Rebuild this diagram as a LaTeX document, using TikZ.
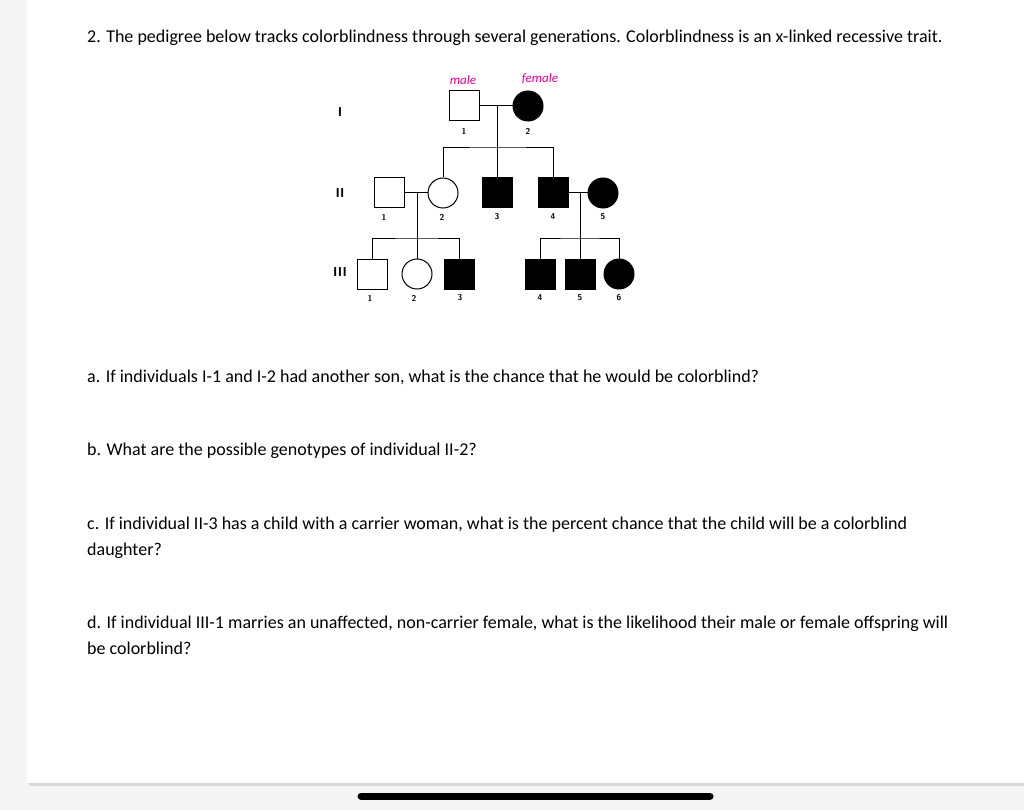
\documentclass[tikz,border=0pt]{standalone}
\usepackage{fontspec}
\setmainfont{Carlito}
\newfontfamily\hw{Carlito}
\begin{document}
\begin{tikzpicture}[x=1pt,y=-1pt,
  sq/.style={draw,line width=1pt,minimum size=30pt,inner sep=0pt},
  ci/.style={draw,circle,line width=1pt,minimum size=30pt,inner sep=0pt},
  aff/.style={fill=black},
  ln/.style={line width=1pt},
  num/.style={font=\sffamily\bfseries\fontsize{8.5}{10}\selectfont},
  gen/.style={font=\sffamily\bfseries\fontsize{13}{14}\selectfont},
  txt/.style={anchor=west,inner sep=0pt,font=\fontsize{18}{25.5}\selectfont,align=left}]
\useasboundingbox (0,0) rectangle (1024,810);
\fill[gray!8] (0,0) rectangle (1024,810);
\fill[gray!30] (29,0) rectangle (1024,786);
\fill[white] (27,0) rectangle (1024,783);
\draw[line width=7pt,line cap=round] (361,796) -- (710,796);
% generation labels
\node[gen] (gI) at (340,112) {I};
\node[gen] (gII) at (340,193) {II};
\node[gen] (gIII) at (340,272) {III};
\node[text=magenta,font=\hw\itshape\fontsize{13}{14}\selectfont] (lm) at (463,80) {male};
\node[text=magenta,font=\hw\itshape\fontsize{13}{14}\selectfont] (lf) at (540,79) {female};
% gen I
\node[sq] (a1) at (464,106) {};
\node[ci,aff] (a2) at (528,106) {};
\node[num] at (464,131) {1};
\node[num] at (528,131) {2};
% gen II
\node[sq] (b1) at (389,193) {};
\node[ci] (b2) at (443,193) {};
\node[sq,aff] (b3) at (497,193) {};
\node[sq,aff] (b4) at (553,193) {};
\node[ci,aff] (b5) at (603,193) {};
\foreach \n/\x in {1/384,2/442,3/497,4/553,5/603} \node[num] at (\x,217) {\n};
% gen III
\node[sq] (c1) at (372,274) {};
\node[ci] (c2) at (417,274) {};
\node[sq,aff] (c3) at (459,274) {};
\node[sq,aff] (c4) at (540,274) {};
\node[sq,aff] (c5) at (580,274) {};
\node[ci,aff] (c6) at (619,274) {};
\foreach \n/\x in {1/370,2/414,3/460,4/540,5/580,6/619} \node[num] at (\x,298) {\n};
% lines
\coordinate (m1) at (497,106);
\coordinate (s1) at (497,148);
\draw[ln] (a1) -- (a2);
\draw[ln] (m1) -- (s1);
\draw[ln] (b2.north) |- (s1) -| (b4.north);
\draw[ln] (s1) -- (b3.north);
\draw[ln] (b1) -- (b2);
\coordinate (m2) at (417,193);
\coordinate (s2) at (417,238);
\draw[ln] (m2) -- (s2);
\draw[ln] (c1.north) |- (s2) -| (c3.north);
\draw[ln] (s2) -- (c2.north);
\draw[ln] (b4) -- (b5);
\coordinate (m3) at (580,193);
\coordinate (s3) at (580,238);
\draw[ln] (m3) -- (s3);
\draw[ln] (c4.north) |- (s3) -| (c6.north);
\draw[ln] (s3) -- (c5.north);
% text
\node[txt] (t0) at (87,38) {2. The pedigree below tracks colorblindness through several generations. Colorblindness is an x-linked recessive trait.};
\node[txt] (ta) at (87,377) {a. If individuals I-1 and I-2 had another son, what is the chance that he would be colorblind?};
\node[txt] (tb) at (87,451) {b. What are the possible genotypes of individual II-2?};
\node[txt,anchor=north west] (tc) at (87,517) {c. If individual II-3 has a child with a carrier woman, what is the percent chance that the child will be a colorblind\\daughter?};
\node[txt,anchor=north west] (td) at (87,616) {d. If individual III-1 marries an unaffected, non-carrier female, what is the likelihood their male or female offspring will\\be colorblind?};
\end{tikzpicture}
\end{document}
